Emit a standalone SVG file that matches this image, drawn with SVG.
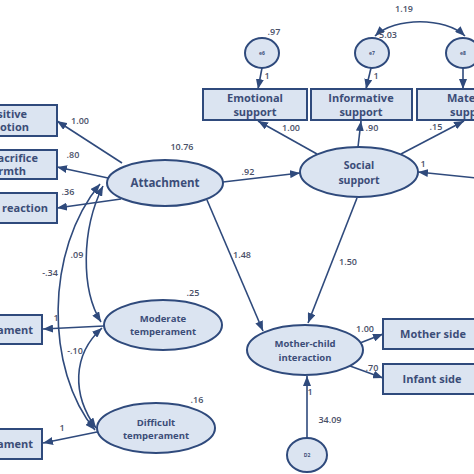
<svg xmlns="http://www.w3.org/2000/svg" width="474" height="474" viewBox="0 0 474 474">
<defs>
<marker id="ah" viewBox="0 0 10 8" refX="10" refY="4" markerWidth="10" markerHeight="8" markerUnits="userSpaceOnUse" orient="auto-start-reverse">
<path d="M0,0 L10,4 L0,8 z" fill="#2f4a7c"/>
</marker>
<style>
.n{fill:#dbe4f1;stroke:#2f4a7c;stroke-width:2}
.t{font-family:"Open Sans","Noto Sans",sans-serif;font-weight:700;fill:#3b4d78}
.l{font-family:"Open Sans","Noto Sans",sans-serif;font-weight:600;font-size:9px;fill:#4a5068}
.e{stroke:#2f4a7c;stroke-width:1.6;fill:none;marker-end:url(#ah)}
.c{stroke:#2f4a7c;stroke-width:1.6;fill:none;marker-start:url(#ah);marker-end:url(#ah)}
</style>
</defs>
<rect width="474" height="474" fill="#ffffff"/>
<g id="connectors">
<path class="e" d="M122,163 L57,121"/>
<path class="e" d="M108,178 L57,167"/>
<path class="e" d="M121,199 L57,208"/>
<path class="e" d="M223,182 L300,173"/>
<path class="e" d="M207,200 L263,331"/>
<path class="e" d="M317,154 L258,121"/>
<path class="e" d="M358,147 L361,121"/>
<path class="e" d="M401,154 L464,121"/>
<path class="e" d="M262,68 L258,89"/>
<path class="e" d="M371,68 L366,89"/>
<path class="e" d="M463,68 L463,89"/>
<path class="e" d="M476,178 L418,172"/>
<path class="e" d="M357,198 L308,323"/>
<path class="e" d="M360,343 L383,334"/>
<path class="e" d="M350,366 L383,378"/>
<path class="e" d="M307,438 L307,376"/>
<path class="e" d="M104,326 L43,329"/>
<path class="e" d="M97,432 L43,443"/>
<path class="c" d="M103,186 C81,230 81,290 101,322"/>
<path class="c" d="M100,184 C45,250 45,370 95,430"/>
<path class="c" d="M102,328 C72,355 72,395 96,428"/>
<path class="c" d="M375,36 C395,17 445,17 465,36"/>
</g>
<g id="lbls">
<text class="l" x="80" y="124" text-anchor="middle">1.00</text>
<text class="l" x="73" y="158" text-anchor="middle">.80</text>
<text class="l" x="68" y="195" text-anchor="middle">.36</text>
<text class="l" x="182" y="150" text-anchor="middle">10.76</text>
<text class="l" x="248" y="175" text-anchor="middle">.92</text>
<text class="l" x="242" y="258" text-anchor="middle">1.48</text>
<text class="l" x="348" y="265" text-anchor="middle">1.50</text>
<text class="l" x="291" y="131" text-anchor="middle">1.00</text>
<text class="l" x="372" y="131" text-anchor="middle">.90</text>
<text class="l" x="436" y="130" text-anchor="middle">.15</text>
<text class="l" x="423" y="167" text-anchor="middle">1</text>
<text class="l" x="274" y="35" text-anchor="middle">.97</text>
<text class="l" x="267" y="79" text-anchor="middle">1</text>
<text class="l" x="388" y="38" text-anchor="middle">5.03</text>
<text class="l" x="376" y="79" text-anchor="middle">1</text>
<text class="l" x="404" y="12" text-anchor="middle">1.19</text>
<text class="l" x="193" y="296" text-anchor="middle">.25</text>
<text class="l" x="197" y="403" text-anchor="middle">.16</text>
<text class="l" x="56" y="321" text-anchor="middle">1</text>
<text class="l" x="62" y="431" text-anchor="middle">1</text>
<text class="l" x="77" y="258" text-anchor="middle">.09</text>
<text class="l" x="50" y="276" text-anchor="middle">-.34</text>
<text class="l" x="75" y="354" text-anchor="middle">-.10</text>
<text class="l" x="365" y="332" text-anchor="middle">1.00</text>
<text class="l" x="372" y="371" text-anchor="middle">.70</text>
<text class="l" x="310" y="395" text-anchor="middle">1</text>
<text class="l" x="330" y="423" text-anchor="middle">34.09</text>
</g>
<g id="positive-emotion">
<rect class="n" x="-50" y="105" width="107" height="31"/>
<text class="t" font-size="11" x="27" y="118" text-anchor="end">Positive</text>
<text class="t" font-size="11" x="29" y="131" text-anchor="end">emotion</text>
</g>
<g id="sacrifice-warmth">
<rect class="n" x="-50" y="150" width="107" height="29"/>
<text class="t" font-size="11" x="38" y="162" text-anchor="end">Sacrifice</text>
<text class="t" font-size="11" x="26" y="175" text-anchor="end">warmth</text>
</g>
<g id="reaction">
<rect class="n" x="-50" y="193" width="107" height="30"/>
<text class="t" font-size="11" x="48" y="212" text-anchor="end">Fear reaction</text>
</g>
<g id="temperament-box-1">
<rect class="n" x="-60" y="315" width="102" height="29"/>
<text class="t" font-size="11" x="33" y="334" text-anchor="end">temperament</text>
</g>
<g id="temperament-box-2">
<rect class="n" x="-60" y="429" width="102" height="30"/>
<text class="t" font-size="11" x="33" y="448" text-anchor="end">temperament</text>
</g>
<g id="attachment">
<ellipse class="n" cx="165" cy="183" rx="58" ry="23"/>
<text class="t" font-size="11.5" x="165" y="187" text-anchor="middle">Attachment</text>
</g>
<g id="moderate">
<ellipse class="n" cx="163" cy="325" rx="59" ry="25"/>
<text class="t" font-size="9.5" x="163" y="322" text-anchor="middle">Moderate</text>
<text class="t" font-size="9.5" x="163" y="335" text-anchor="middle">temperament</text>
</g>
<g id="difficult">
<ellipse class="n" cx="156" cy="428" rx="59" ry="25"/>
<text class="t" font-size="9.5" x="156" y="426" text-anchor="middle">Difficult</text>
<text class="t" font-size="9.5" x="156" y="439" text-anchor="middle">temperament</text>
</g>
<g id="social">
<ellipse class="n" cx="359" cy="172" rx="59" ry="25"/>
<text class="t" font-size="10.5" x="359" y="169" text-anchor="middle">Social</text>
<text class="t" font-size="10.5" x="359" y="184" text-anchor="middle">support</text>
</g>
<g id="mother-child">
<ellipse class="n" cx="305" cy="350" rx="58" ry="25"/>
<text class="t" font-size="9.5" x="305" y="347" text-anchor="middle">Mother-child</text>
<text class="t" font-size="9.5" x="305" y="361" text-anchor="middle">interaction</text>
</g>
<g id="emotional">
<rect class="n" x="203" y="89" width="104" height="31"/>
<text class="t" font-size="11" x="255" y="102" text-anchor="middle">Emotional</text>
<text class="t" font-size="11" x="255" y="116" text-anchor="middle">support</text>
</g>
<g id="informative">
<rect class="n" x="311" y="89" width="101" height="31"/>
<text class="t" font-size="11" x="361" y="102" text-anchor="middle">Informative</text>
<text class="t" font-size="11" x="361" y="116" text-anchor="middle">support</text>
</g>
<g id="material">
<rect class="n" x="417" y="89" width="104" height="31"/>
<text class="t" font-size="11" x="447" y="102">Material</text>
<text class="t" font-size="11" x="450" y="116">support</text>
</g>
<g id="mother-side">
<rect class="n" x="383" y="319" width="100" height="30"/>
<text class="t" font-size="11" x="433" y="338" text-anchor="middle">Mother side</text>
</g>
<g id="infant-side">
<rect class="n" x="383" y="364" width="100" height="30"/>
<text class="t" font-size="11" x="432" y="383" text-anchor="middle">Infant side</text>
</g>
<g id="e6">
<ellipse class="n" cx="262" cy="53" rx="17" ry="15"/>
<text class="t" font-size="5" x="262" y="55" text-anchor="middle">e6</text>
</g>
<g id="e7">
<ellipse class="n" cx="372" cy="53" rx="17" ry="15"/>
<text class="t" font-size="5" x="372" y="55" text-anchor="middle">e7</text>
</g>
<g id="e8">
<ellipse class="n" cx="463" cy="53" rx="17" ry="15"/>
<text class="t" font-size="5" x="463" y="55" text-anchor="middle">e8</text>
</g>
<g id="d2">
<ellipse class="n" cx="307" cy="455" rx="20" ry="17"/>
<text class="t" font-size="5" x="307" y="457" text-anchor="middle">D2</text>
</g>
</svg>
